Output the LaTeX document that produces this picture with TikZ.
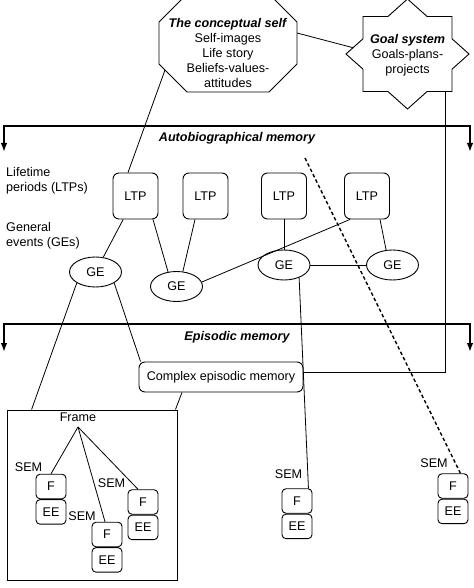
\documentclass[tikz,border=0pt]{standalone}
\usepackage{fontspec}
\setmainfont{Liberation Sans}
\usetikzlibrary{shapes.geometric,arrows.meta}
\begin{document}
\begin{tikzpicture}[x=1bp,y=-1bp,
  every node/.style={font=\fontsize{12.6bp}{15bp}\selectfont, inner sep=0pt},
  conn/.style={line width=0.8bp},
  outline/.style={line width=0.9bp},
  ltpbox/.style={outline, draw, rounded corners=6bp, minimum width=45bp, minimum height=46bp},
  geell/.style={outline, draw, ellipse, minimum width=52bp, minimum height=30bp},
  fbx/.style={outline, draw, rounded corners=4bp, minimum width=30bp, minimum height=24.5bp},
  bar/.style={line width=1.5bp, {Latex[length=9bp,width=6.5bp]}-{Latex[length=9bp,width=6.5bp]}},
  titletext/.style={font=\fontsize{12.6bp}{15bp}\selectfont\bfseries\itshape},
  dashline/.style={line width=1.4bp, dash pattern=on 3.5bp off 2.5bp},
]
\useasboundingbox (0,0) rectangle (474,588);
\clip (0,0) rectangle (474,588);

% conceptual self (octagon)
\draw[outline] (187,-6) -- (269,-6) -- (297,22) -- (297,64) -- (269,92) -- (187,92) -- (159,64) -- (159,22) -- cycle;
\node[align=center] (cs) at (228,53) {\textbf{\textit{The conceptual self}}\\Self-images\\Life story\\Beliefs-values-\\attitudes};
\coordinate (csl) at (165,70);
\coordinate (csr) at (297,33);

% goal system (star)
\draw[outline] (407.5,-1) -- (427.1,16.5) -- (452,16.5) -- (452,38.8) -- (469,54) -- (452,69.2) -- (452,91.5) -- (427.1,91.5) -- (407.5,109) -- (387.9,91.5) -- (363,91.5) -- (363,69.2) -- (346,54) -- (363,38.8) -- (363,16.5) -- (387.9,16.5) -- cycle;
\node[align=center] (gs) at (407.5,55) {\textbf{\textit{Goal system}}\\Goals-plans-\\projects};
\coordinate (gsl) at (353,47.7);
\coordinate (gsb) at (445,91.5);

% bars
\coordinate (a1) at (4,152);
\coordinate (a2) at (4,126);
\coordinate (a3) at (470,126);
\coordinate (a4) at (470,152);
\draw[bar] (a1) -- (a2) -- (a3) -- (a4);
\node[titletext] (abm) at (237,138) {Autobiographical memory};

\coordinate (e1) at (4,352);
\coordinate (e2) at (4,324);
\coordinate (e3) at (470,324);
\coordinate (e4) at (470,352);
\draw[bar] (e1) -- (e2) -- (e3) -- (e4);
\node[titletext] (epm) at (237,337) {Episodic memory};

% left labels
\node[align=left, anchor=west] (ltplab) at (6,180.5) {Lifetime\\periods (LTPs)};
\node[align=left, anchor=west] (gelab) at (6,236) {General\\events (GEs)};

% LTPs
\node[ltpbox] (ltp1) at (135.5,196) {LTP};
\node[ltpbox] (ltp2) at (205.5,196) {LTP};
\node[ltpbox] (ltp3) at (284,196) {LTP};
\node[ltpbox] (ltp4) at (367,196) {LTP};

% GEs
\node[geell] (ge1) at (95.5,272) {GE};
\node[geell] (ge2) at (176.5,286.5) {GE};
\node[geell] (ge3) at (284,265) {GE};
\node[geell] (ge4) at (392.5,265) {GE};

% complex episodic memory
\node[outline, draw, rounded corners=6bp, minimum width=164bp, minimum height=30bp] (cem) at (221,377) {Complex episodic memory};

% frame box
\node[outline, draw, minimum width=170bp, minimum height=170bp] (fbox) at (92,495) {};
\node (frm) at (78,417.5) {Frame};
\coordinate (frmb) at (78,427);

% F / EE stacks
\node[fbx] (f1) at (51,486.5) {F};
\node[fbx, anchor=north] (ee1) at (f1.south) {EE};
\node[fbx] (f2) at (107,534.5) {F};
\node[fbx, anchor=north] (ee2) at (f2.south) {EE};
\node[fbx] (f3) at (143,502) {F};
\node[fbx, anchor=north] (ee3) at (f3.south) {EE};
\node[fbx] (f4) at (297,501) {F};
\node[fbx, anchor=north] (ee4) at (f4.south) {EE};
\node[fbx] (f5) at (453,486) {F};
\node[fbx, anchor=north] (ee5) at (f5.south) {EE};

\node (sem1) at (28.5,467.5) {SEM};
\node (sem2) at (82,516.5) {SEM};
\node (sem3) at (111.5,483) {SEM};
\node (sem4) at (288.5,474.5) {SEM};
\node (sem5) at (434,463) {SEM};

% connectors
\draw[conn] (csl) -- ([xshift=-7.5bp]ltp1.north);
\draw[conn] (csr) -- (gsl);
\draw[conn] (gsb) |- ([yshift=5bp]cem.east);
\draw[conn] (ltp1) -- (ge1);
\draw[conn] ([xshift=17.5bp]ltp1.south) -- (ge2.120);
\draw[conn] ([xshift=-10.5bp]ltp2.south) -- (ge2.67);
\draw[conn] (ge2.10) -- ([xshift=-17bp]ltp4.south);
\draw[conn] (ltp3) -- (ge3);
\draw[conn] ([xshift=13bp]ltp4.south) -- (ge4.113);
\draw[conn] (ge3) -- (ge4);
\draw[conn] (ge3.-40) -- ([xshift=-4bp]f4.north east);
\draw[conn] (ge1.south west) -- ([xshift=25bp]fbox.north west);
\draw[conn] (ge1.south east) -- ([xshift=2bp]cem.north west);
\draw[conn] ([xshift=-39bp]cem.south) -- ([xshift=-2bp]fbox.north east);
\draw[conn] (frmb) -- (f1.north);
\draw[conn] (frmb) -- ([xshift=-2bp]f2.north);
\draw[conn] (frmb) -- ([xshift=-5bp]f3.north);
\coordinate (ds) at (305,158);
\draw[dashline] (ds) -- ([xshift=-8bp]f5.north east);
\end{tikzpicture}
\end{document}
